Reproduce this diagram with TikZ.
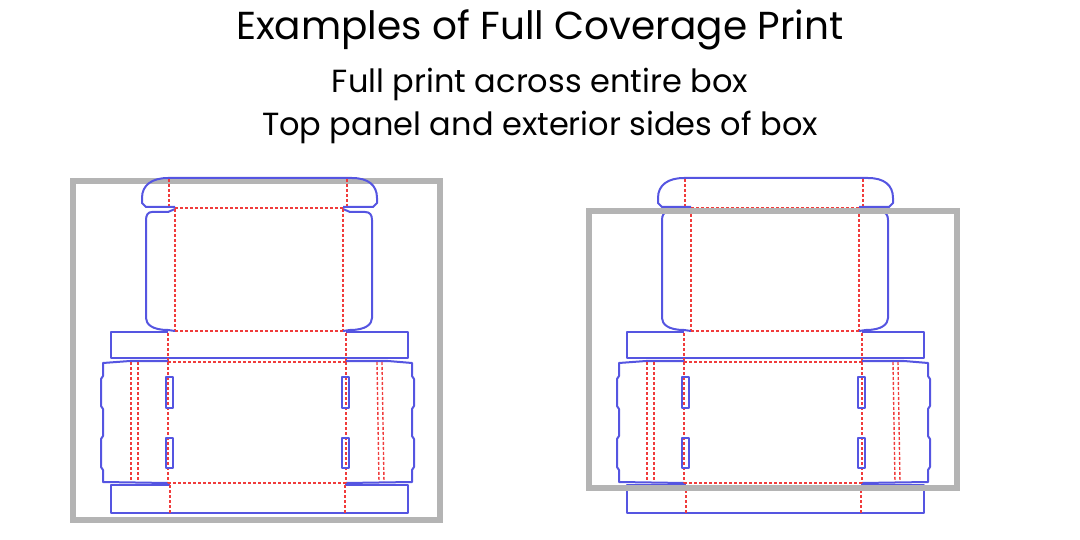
\documentclass[tikz,border=0pt]{standalone}
\usepackage{fontspec}
\setmainfont{Poppins}
\begin{document}
\begin{tikzpicture}[x=1pt,y=-1pt,
  cut/.style={draw={rgb,255:red,85;green,85;blue,225},line width=2pt,line join=round},
  fold/.style={draw={rgb,255:red,240;green,60;blue,60},line width=1.4pt,dash pattern=on 3pt off 2pt},
  frame/.style={draw={rgb,255:red,180;green,180;blue,180},line width=6.5pt},
  title/.style={font=\fontsize{39}{44}\selectfont},
  sub/.style={font=\fontsize{32}{34}\selectfont}]
\useasboundingbox (0,0) rectangle (1080,540);
\node[title] (t) at (540,30) {Examples of Full Coverage Print};
\node[sub] (s1) at (540,84) {Full print across entire box};
\node[sub] (s2) at (540,127) {Top panel and exterior sides of box};
\newcommand\dieline[1]{%
\begin{scope}[xshift=#1]
% top flap
\draw[cut] (175,207) -- (146,207) -- (142,203) -- (142,198) .. controls (142,185) and (152,178) .. (168,178) -- (352,178) .. controls (368,178) and (377,185) .. (377,198) -- (377,203) -- (373,207) -- (343,207);
\draw[fold] (169,179) -- (169,206) (347,179) -- (347,206);
\draw[fold] (175,208) -- (343,208);
% lid panel side flaps
\draw[cut] (175,209) -- (168,212) -- (152,212) .. controls (148,212) and (146,215) .. (146,220) -- (146,318) .. controls (146,324) and (152,330) .. (168,330) -- (175,331);
\draw[cut] (343,209) -- (350,212) -- (365,212) .. controls (370,212) and (372,215) .. (372,220) -- (372,318) .. controls (372,324) and (366,330) .. (350,330) -- (343,331);
\draw[fold] (175,209) -- (175,330) (343,209) -- (343,330);
\draw[fold] (175,331) -- (343,331);
% band
\draw[cut] (168,332) -- (111,332) -- (111,358) -- (408,358) -- (408,332) -- (346,332);
\draw[fold] (168,333) -- (168,362) (346,333) -- (346,362);
\draw[fold] (168,362) -- (346,362);
% body side flaps
\draw[cut] (168,361) -- (130,361) -- (103,363) -- (103,376) -- (101,379) -- (101,406) -- (103,409) -- (103,436) -- (101,439) -- (101,467) -- (103,470) -- (103,482) -- (168,483);
\draw[cut] (346,361) -- (388,361) -- (412,363) -- (412,376) -- (414,379) -- (414,406) -- (412,409) -- (412,436) -- (414,439) -- (414,467) -- (412,470) -- (412,482) -- (346,483);
\draw[fold] (131,362) -- (131,482) (138,362) -- (138,482);
\draw[fold] (377,362) -- (379,482) (382,362) -- (384,482);
\draw[fold] (168,362) -- (168,483) (346,362) -- (346,483);
% slots
\draw[cut] (166,377) rectangle (173,408) (166,438) rectangle (173,468);
\draw[cut] (342,377) rectangle (349,408) (342,438) rectangle (349,468);
\draw[fold] (168,483) -- (346,483);
% bottom flap
\draw[cut] (170,485) -- (111,485) -- (111,513) -- (408,513) -- (408,485) -- (345,485);
\draw[fold] (170,485) -- (170,513) (345,485) -- (345,513);
\end{scope}}
\draw[frame] (73,181) rectangle (440,520);
\dieline{0}
\dieline{516}
\draw[frame] (589,211) rectangle (957,488);
\end{tikzpicture}
\end{document}
